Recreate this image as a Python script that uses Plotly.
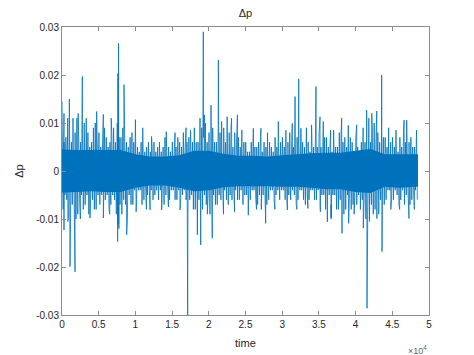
import plotly.graph_objects as go

# ---- data (values in units of 1e-3), 250-sample bins ----
bin_width = 250
fringe_hi = [9, 6, 7, 11, 10, 6, 5, 8, 11, 7, 6, 9, 10, 7, 8, 5, 6, 9, 10, 7,
             8, 5, 6, 9, 7, 5, 6, 8, 9, 6, 10, 7, 7, 9, 8, 6, 5, 7, 8, 6,
             7, 5, 4, 6, 6, 4, 5, 6, 4, 5, 6, 4, 5, 6, 4, 5, 7, 4, 5, 4,
             6, 4, 5, 7, 6, 5, 8, 5, 6, 7, 8, 6, 9, 6, 6, 8, 9, 7, 10, 6,
             8, 6, 9, 6, 6, 9, 8, 5, 9, 6, 6, 8, 9, 5, 8, 6, 7, 5, 4, 6,
             6, 4, 4, 6, 7, 5, 5, 6, 7, 4, 6, 5, 4, 6, 5, 4, 7, 5, 4, 6,
             7, 5, 4, 6, 8, 5, 5, 7, 7, 5, 8, 6, 5, 7, 6, 4, 8, 5, 7, 5,
             8, 5, 5, 7, 7, 5, 6, 4, 7, 5, 5, 8, 8, 6, 7, 5, 5, 7, 6, 4,
             7, 5, 4, 6, 9, 6, 10, 7, 6, 9, 10, 7, 8, 6, 5, 7, 7, 5, 4, 6,
             7, 5, 6, 4, 7, 5, 8, 6, 4, 6, 7, 5, 5, 7]
fringe_lo = [-8, -5, -6, -9, -11, -7, -6, -10, -9, -6, -5, -8, -7, -5, -9, -6, -6, -8, -8, -5,
             -7, -5, -9, -6, -5, -8, -7, -5, -6, -9, -11, -7, -9, -6, -7, -10, -5, -7, -7, -4,
             -6, -4, -4, -7, -6, -4, -5, -4, -4, -6, -5, -4, -6, -4, -4, -7, -5, -4, -6, -4,
             -4, -6, -6, -4, -7, -5, -4, -6, -9, -6, -5, -8, -8, -6, -6, -10, -8, -5, -7, -5,
             -9, -6, -5, -7, -7, -5, -6, -4, -4, -6, -7, -5, -6, -4, -4, -6, -6, -4, -7, -5,
             -5, -7, -6, -4, -4, -6, -7, -5, -8, -5, -5, -7, -6, -4, -4, -6, -5, -4, -6, -4,
             -4, -6, -7, -5, -6, -4, -5, -7, -6, -4, -4, -6, -7, -5, -6, -4, -4, -6, -6, -4,
             -7, -5, -5, -8, -8, -5, -7, -5, -5, -8, -8, -6, -6, -9, -8, -5, -5, -8, -7, -5,
             -7, -5, -8, -6, -6, -10, -9, -7, -7, -9, -8, -6, -9, -6, -5, -7, -6, -4, -4, -6,
             -6, -4, -5, -7, -6, -4, -7, -5, -5, -7, -6, -4, -4, -6]

core_t = list(range(0, 48001, 2000)) + [48500]
core_hi = [4.5, 4.4, 4.4, 4.4, 4.4, 3.5, 3, 3, 3.3, 4.2, 4.2, 3.6, 3.2, 3.2, 3, 3.3,
           3.5, 3.7, 3.8, 3.8, 4.2, 4.6, 3.5, 3.5, 3.5, 3.5]
core_lo = [-4.5, -4.4, -4.2, -4.4, -4.4, -3.5, -3, -3, -3.5, -4.2, -4, -3.4, -3.2, -3.2, -3.2, -3.3,
           -3.3, -3.5, -3.8, -3.8, -4.4, -4.6, -3.3, -3.5, -3.3, -3.3]

spike_t = [0, 270, 1000, 1500, 2200, 2770, 3300, 4720, 5630, 6700, 7620, 7700, 8450, 10000, 11000,
           270, 800, 1090, 1770, 2500, 3810, 5630, 6500, 7580, 7750, 8810, 10100, 11500, 13580,
           12200, 14200, 15400, 16900, 17500, 18800, 19250, 19400, 20300, 21300, 21750, 22500, 23100, 23900, 24500,
           12000, 14500, 16080, 17120, 18440, 18900, 19800, 20470, 22000, 23500,
           26070, 27100, 28000, 29470, 30500, 31370, 31750, 32250, 32560, 33300, 34000, 34600, 35150, 35600, 36600,
           25380, 26500, 27750, 29000, 30700, 32000, 33500, 35200, 36150, 36650,
           37000, 38100, 39000, 40150, 41500, 41800, 42200, 42880, 43550, 44500, 45500, 46600, 46960, 48300,
           36700, 38150, 39050, 39800, 41050, 41550, 41900, 42900, 43600, 44800, 46000, 47270, 48000]
spike_v = [14.5, 12, 15, 11, 12, 19.7, 11, 12.4, 11.8, 11, 20.3, 26.6, 18, 10.7, 9,
           -12.3, -10.5, -19.9, -21, -10, -9.8, -9.8, -9, -14.7, -12, -13.3, -8.5, -8, -8.1,
           7.2, 8.2, 8, 9, 8.5, 11, 29, 11.7, 13.7, 23.1, 10.3, 11.3, 11, 11.7, 8.5,
           -8.1, -7.5, -8.1, -31, -13.3, -15.4, -9, -14, -9, -8.5,
           8.9, 8.9, 8, 10.3, 8.5, 9.9, 15.5, 19.2, 8.9, 9, 9.6, 17.6, 11.3, 10.3, 8.5,
           -9.2, -8, -10.9, -8, -8.1, -8, -7.8, -8.5, -10.6, -10,
           8.5, 11, 9.5, 9.6, 12.7, 11, 12, 12.5, 20, 9, 8.5, 10.6, 10.6, 8.5,
           -9.7, -13, -10.9, -9, -11.9, -28.6, -10.5, -9.9, -16.8, -8, -8, -9.9, -8]

x_ticks = [0, 5000, 10000, 15000, 20000, 25000, 30000, 35000, 40000, 45000, 50000]
x_labels = ["0", "0.5", "1", "1.5", "2", "2.5", "3", "3.5", "4", "4.5", "5"]
y_ticks = [-0.03, -0.02, -0.01, 0, 0.01, 0.02, 0.03]
y_labels = ["-0.03", "-0.02", "-0.01", "0", "0.01", "0.02", "0.03"]

# ---- build the series ----
pts = []
for j, (h, l) in enumerate(zip(fringe_hi, fringe_lo)):
    t0 = j * bin_width
    pts.append((t0 + 30, h * 1e-3))
    pts.append((t0 + 155, l * 1e-3))
for t, v in zip(spike_t, spike_v):
    pts.append((t + 1, v * 1e-3))
pts.sort(key=lambda p: p[0])
xs = [p[0] for p in pts]
ys = [p[1] for p in pts]

blue = "#0072BD"
font_family = "Liberation Sans, Arial, sans-serif"
text_col = "#262626"
fig = go.Figure()
fig.add_trace(go.Scatter(x=core_t + core_t[::-1],
                         y=[v * 1e-3 for v in core_hi] + [v * 1e-3 for v in core_lo[::-1]],
                         fill="toself", fillcolor=blue, mode="none", hoverinfo="skip",
                         showlegend=False))
fig.add_trace(go.Scatter(x=xs, y=ys, mode="lines",
                         line=dict(color=blue, width=0.8, simplify=False),
                         showlegend=False, name="Δp"))

axis_font = dict(family=font_family, size=10, color=text_col)
fig.update_layout(
    width=466, height=347,
    margin=dict(l=54, r=45, t=19, b=40, autoexpand=False),
    paper_bgcolor="white", plot_bgcolor="white",
    title=dict(text="Δp", x=0.5, xanchor="center", y=0.9856, yanchor="middle",
               xref="paper", font=dict(family=font_family, size=11, color=text_col)),
    xaxis=dict(range=[0, 50000], tickvals=x_ticks, ticktext=x_labels, ticks="inside", ticklen=4,
               tickcolor="#8c8c8c", showline=True, linecolor="#8c8c8c", linewidth=1, mirror="ticks",
               showgrid=False, zeroline=False, tickfont=axis_font, automargin=False),
    yaxis=dict(range=[-0.03, 0.03], tickvals=y_ticks, ticktext=y_labels, ticks="inside", ticklen=4,
               tickcolor="#8c8c8c", showline=True, linecolor="#8c8c8c", linewidth=1, mirror="ticks",
               showgrid=False, zeroline=False, tickfont=axis_font, automargin=False,
               title=dict(text="Δp", font=dict(family=font_family, size=11, color=text_col),
                          standoff=10)),
    annotations=[
        dict(text="time", x=0.5, y=-0.097, xref="paper", yref="paper",
             xanchor="center", yanchor="middle", showarrow=False,
             font=dict(family=font_family, size=11, color=text_col)),
        dict(text="×10<sup>4</sup>", x=1.0, y=-0.095, xref="paper", yref="paper",
             xanchor="right", yanchor="top", showarrow=False,
             font=dict(family=font_family, size=9, color="#666666")),
    ],
)
fig.write_html("out.html")
